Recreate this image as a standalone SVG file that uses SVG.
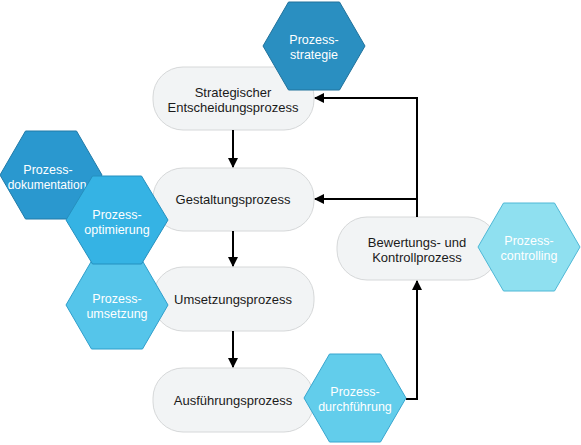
<svg xmlns="http://www.w3.org/2000/svg" width="581" height="445" viewBox="0 0 581 445">
<defs>
<marker id="ah" markerWidth="10" markerHeight="10" refX="9" refY="5" orient="auto" markerUnits="userSpaceOnUse">
<path d="M0,0 L10,5 L0,10 z" fill="#000"/>
</marker>
<style>
.box{fill:#f2f4f5;stroke:#d6d8d9;stroke-width:1}
.t{font-family:"Liberation Sans",Arial,sans-serif;font-size:13px;fill:#1a1a1a;text-anchor:middle}
.h{font-family:"Liberation Sans",Arial,sans-serif;font-size:12.5px;fill:#ffffff;text-anchor:middle}
.c{fill:none;stroke:#000;stroke-width:2}
</style>
</defs>
<rect width="581" height="445" fill="#ffffff"/>
<g id="strategisch"><rect class="box" x="153" y="67" width="161" height="63" rx="30"/><text class="t" x="233" y="97">Strategischer</text><text class="t" x="233" y="112">Entscheidungsprozess</text></g>
<g id="gestaltung"><rect class="box" x="153" y="168" width="161" height="63" rx="30"/><text class="t" x="233" y="204">Gestaltungsprozess</text></g>
<g id="umsetzung"><rect class="box" x="153" y="267" width="161" height="64" rx="30"/><text class="t" x="233" y="304">Umsetzungsprozess</text></g>
<g id="ausfuehrung"><rect class="box" x="153" y="368" width="161" height="64" rx="30"/><text class="t" x="233" y="405">Ausführungsprozess</text></g>
<g id="bewertung"><rect class="box" x="337" y="217" width="161" height="63" rx="30"/><text class="t" x="417" y="247">Bewertungs- und</text><text class="t" x="417" y="262">Kontrollprozess</text></g>
<g id="connectors">
<line class="c" x1="233" y1="130" x2="233" y2="167" marker-end="url(#ah)"/>
<line class="c" x1="233" y1="231" x2="233" y2="266" marker-end="url(#ah)"/>
<line class="c" x1="233" y1="331" x2="233" y2="367" marker-end="url(#ah)"/>
<polyline class="c" points="417,217 417,98 315,98" marker-end="url(#ah)"/>
<line class="c" x1="417" y1="199" x2="315" y2="199" marker-end="url(#ah)"/>
<polyline class="c" points="406,399 417,399 417,281" marker-end="url(#ah)"/>
</g>
<g id="p-strategie"><polygon points="263,46 288.5,2 339.5,2 365,46 339.5,90 288.5,90" fill="#2a8fc1" stroke="#20729c"/><text class="h" x="314" y="44">Prozess-</text><text class="h" x="314" y="59">strategie</text></g>
<g id="p-umsetzung"><polygon points="66,305 91.5,261 142.5,261 168,305 142.5,349 91.5,349" fill="#55c5ea" stroke="#2f9fcc"/><text class="h" x="117" y="303">Prozess-</text><text class="h" x="117" y="318">umsetzung</text></g>
<g id="p-dokumentation"><polygon points="0,175 25.5,131 76.5,131 102,175 76.5,219 25.5,219" fill="#2a98cf" stroke="#207aa8"/><text class="h" x="48" y="174">Prozess-</text><text class="h" x="47" y="189" style="font-size:12px">dokumentation</text></g>
<g id="p-optimierung"><polygon points="66,220 92.5,176 141.5,176 168,220 141.5,264 92.5,264" fill="#35b3e4" stroke="#2590bf"/><text class="h" x="117" y="219">Prozess-</text><text class="h" x="117" y="234">optimierung</text></g>
<g id="p-durchfuehrung"><polygon points="304,398 329.5,354 380.5,354 406,398 380.5,442 329.5,442" fill="#62cdeb" stroke="#38a6cf"/><text class="h" x="355" y="396">Prozess-</text><text class="h" x="355" y="411">durchführung</text></g>
<g id="p-controlling"><polygon points="478,247 503.5,203 554.5,203 580,247 554.5,291 503.5,291" fill="#8fe0f0" stroke="#4fb8d6"/><text class="h" x="529" y="245">Prozess-</text><text class="h" x="529" y="260">controlling</text></g>
</svg>
